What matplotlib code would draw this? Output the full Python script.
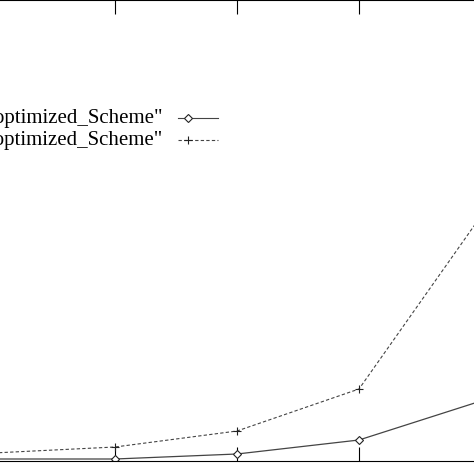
import matplotlib
matplotlib.use("Agg")
import matplotlib.pyplot as plt

x = [1, 2, 3, 4, 5]
opt = [2, 2, 7, 21, 60]
nonopt = [8, 14, 30, 72, 245]
labels = ['"With_optimized_Scheme"', '"Without_optimized_Scheme"']

fig = plt.figure(figsize=(4.74, 4.74), dpi=100)
ax = fig.add_axes([-7/474, 13/474, 488/474, 461/474])
ax.plot(x, opt, color="#444444", lw=0.9, marker="D", ms=4, mfc="white", mec="#222222", mew=0.8)
ax.plot(x, nonopt, color="#444444", lw=0.8, ls=(0, (3, 2)), marker="+", ms=6, mec="#222222", mew=0.8)
ax.set_xlim(1, 5)
ax.set_ylim(0, 461)
ax.set_xticks([2, 3, 4])
ax.set_yticks([])
ax.tick_params(axis="x", direction="in", length=10, top=True, bottom=True, labelbottom=False)
for s in ax.spines.values():
    s.set_linewidth(0.8)

ys = [118, 140]
styles = [dict(ls="-", marker="D", ms=4, mfc="white"), dict(ls=(0, (3, 2)), marker="+", ms=6)]
for yp, lab, st in zip(ys, labels, styles):
    fy = 1 - yp / 474
    fig.text(163/474, fy, lab, ha="right", va="center", family="Liberation Serif", fontsize=15)
    fig.add_artist(plt.Line2D([178/474, 218/474], [fy, fy], color="#444444", lw=0.8, ls=st["ls"]))
    fig.add_artist(plt.Line2D([188/474], [fy], color="#222222", marker=st["marker"], ms=st["ms"],
                              mfc=st.get("mfc", "none"), mew=0.8, ls="none"))
fig.savefig("out.png", dpi=100)
